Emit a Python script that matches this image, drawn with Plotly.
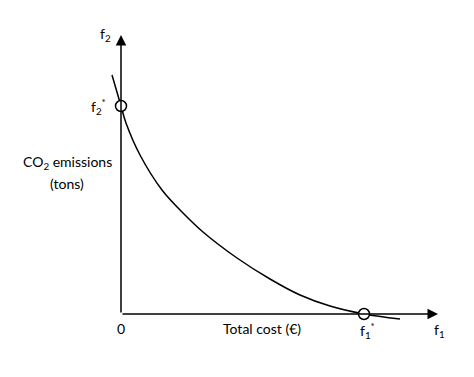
import plotly.graph_objects as go

# Pareto front points (f1 = total cost, f2 = CO2 emissions), arbitrary units
front_f1 = [-9, 0, 5, 19, 41, 62, 82, 116, 149, 179, 209, 243, 279]
front_f2 = [239, 208, 191, 159, 124, 101, 82, 56, 35, 19, 8, 0, -5]

# Anchor (ideal) points
anchor_f1 = [0, 243]
anchor_f2 = [208, 0]

axis_x_max = 317
axis_y_max = 279

FONT = "Lato"
fs = 14

fig = go.Figure()
fig.add_trace(go.Scatter(x=front_f1, y=front_f2, mode="lines",
                         line=dict(color="black", width=1.5, shape="spline", smoothing=1.0),
                         hoverinfo="skip", showlegend=False))

# axes with arrows
fig.add_annotation(x=axis_x_max, y=0, ax=0, ay=0, xref="x", yref="y", axref="x", ayref="y",
                   showarrow=True, arrowhead=2, arrowsize=1.4, arrowwidth=1.5, arrowcolor="black", text="")
fig.add_annotation(x=0, y=axis_y_max, ax=0, ay=0, xref="x", yref="y", axref="x", ayref="y",
                   showarrow=True, arrowhead=2, arrowsize=1.4, arrowwidth=1.5, arrowcolor="black", text="")

fig.add_trace(go.Scatter(x=anchor_f1, y=anchor_f2, mode="markers",
                         marker=dict(size=11, color="white", line=dict(color="black", width=1.5)),
                         hoverinfo="skip", showlegend=False))

def lab(x, y, t, xanchor="center"):
    fig.add_annotation(x=x, y=y, xref="x", yref="y", text=t, showarrow=False,
                       xanchor=xanchor, yanchor="middle",
                       font=dict(family=FONT, size=fs, color="black"))

lab(-16, 280, "f<sub>2</sub>")
lab(-23, 208, "f<sub>2</sub><sup>*</sup>")
lab(-54, 152, "CO<sub>2</sub> emissions")
lab(-54, 131, "(tons)")
lab(0, -14, "0")
lab(141, -14, "Total cost (€)")
lab(246, -16, "f<sub>1</sub><sup>*</sup>")
lab(318, -16, "f<sub>1</sub>")

fig.update_layout(
    width=458, height=361,
    margin=dict(l=0, r=0, t=0, b=0),
    paper_bgcolor="white", plot_bgcolor="white",
    xaxis=dict(range=[-113, 345], visible=False, fixedrange=True),
    yaxis=dict(range=[-55, 306], visible=False, fixedrange=True),
)
fig.write_html("out.html")
